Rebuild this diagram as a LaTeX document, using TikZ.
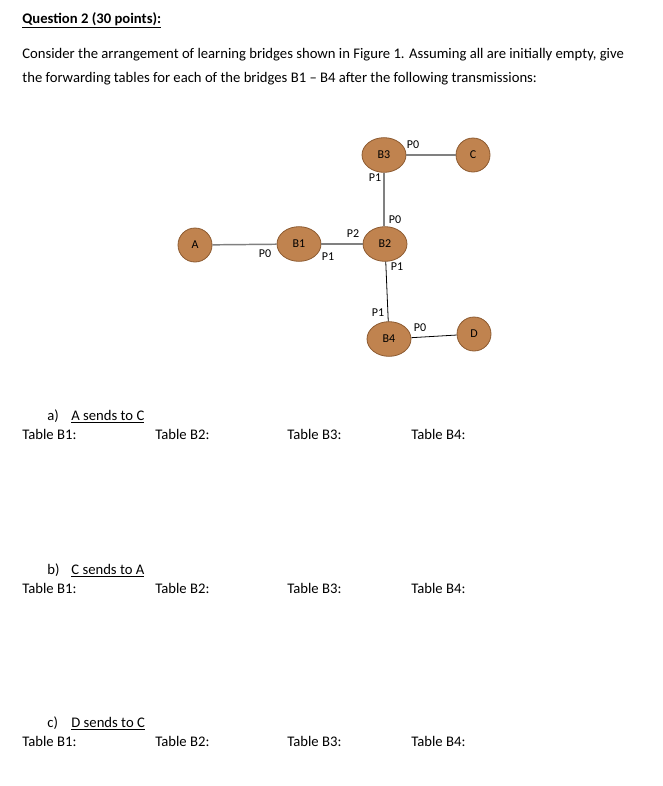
\documentclass[tikz,border=0pt]{standalone}
\usepackage{fontspec}
\setmainfont{Carlito}
\usetikzlibrary{shapes.geometric}

\definecolor{bridgefill}{HTML}{C0834F}
\definecolor{bridgeline}{HTML}{8C5A30}
\definecolor{linkgray}{HTML}{808080}

\begin{document}
\begin{tikzpicture}[x=0.75pt,y=-0.75pt,semithick]
\tikzstyle{every node}=[inner sep=0pt,font=\fontsize{11}{13}\selectfont]
\tikzstyle{bridge}=[ellipse,draw=bridgeline,fill=bridgefill,minimum width=33pt,minimum height=26pt,font=\fontsize{9}{11}\selectfont]
\tikzstyle{host}=[circle,draw=bridgeline,fill=bridgefill,minimum size=25.5pt,font=\fontsize{9}{11}\selectfont]
\tikzstyle{port}=[font=\fontsize{9}{11}\selectfont]
\tikzstyle{txt}=[anchor=base west]
\tikzstyle{link}=[draw=linkgray,line width=1.1pt]
\tikzstyle{thin}=[draw=black,line width=0.6pt]
\useasboundingbox (0,0) rectangle (662,786);

% heading
\node[txt,font=\bfseries\fontsize{11}{13}\selectfont] (title) at (22,23) {\underline{Question 2 (30 points):}};
\node[txt] (line1) at (22,58) {Consider the arrangement of learning bridges shown in Figure 1. Assuming all are initially empty, give};
\node[txt] (line2) at (22,82) {the forwarding tables for each of the bridges B1 -- B4 after the following transmissions:};

% network
\node[host] (A) at (195,245) {A};
\node[bridge] (B1) at (299,244) {B1};
\node[bridge] (B2) at (385,244) {B2};
\node[bridge] (B3) at (384,155) {B3};
\node[host] (C) at (473,155) {C};
\node[bridge] (B4) at (389,339) {B4};
\node[host] (D) at (474,334) {D};
\draw[link] (A) -- (B1);
\draw[link] (B1) -- (B2);
\draw[link] (B3) -- (C);
\draw[link] (B3.south) -- (B3.south |- B2.north);
\draw[thin] (B2) -- (B4);
\draw[thin] (B4) -- (D);

% port labels
\node[port] (b3p0) at (413,145) {P0};
\node[port] (b3p1) at (375,178) {P1};
\node[port] (b2p0) at (395,220) {P0};
\node[port] (b2p2) at (353,234) {P2};
\node[port] (b1p0) at (265,254) {P0};
\node[port] (b1p1) at (328,257) {P1};
\node[port] (b2p1) at (397,267) {P1};
\node[port] (b4p1) at (378,313) {P1};
\node[port] (b4p0) at (420,328) {P0};

% transmissions
\foreach \tag/\msg/\y in {a/A sends to C/420, b/C sends to A/574, c/D sends to C/727}{
  \node[txt] (lbl\tag) at (47,\y) {\tag)};
  \node[txt] (msg\tag) at (71,\y) {\underline{\msg}};
  \foreach \k/\x in {1/22, 2/155, 3/287, 4/411}
    \node[txt] (tab\tag\k) at (\x,\y+19) {Table B\k:};
}
\end{tikzpicture}
\end{document}
